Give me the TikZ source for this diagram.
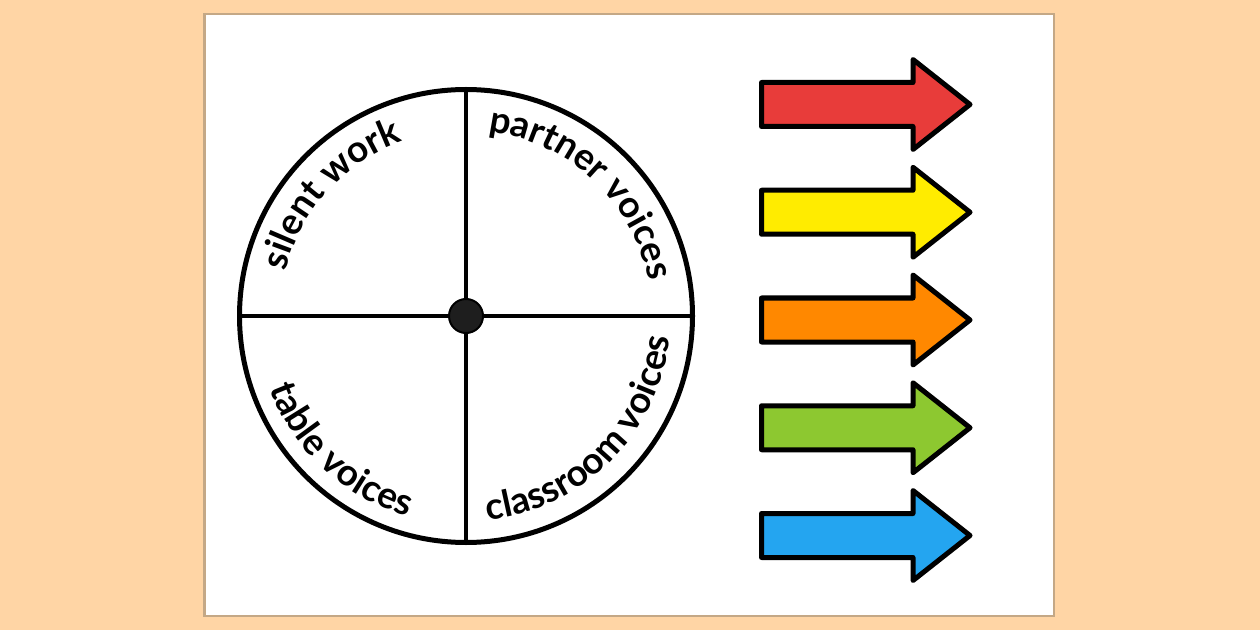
\documentclass[tikz,border=0pt]{standalone}
\usepackage{fontspec}
\newfontfamily\wheelfont{Lato}
\usetikzlibrary{decorations.text}

\definecolor{peach}{RGB}{255,213,165}
\definecolor{pageshadow}{RGB}{196,168,134}
\definecolor{hubgray}{RGB}{30,30,30}
\definecolor{arrowred}{RGB}{232,60,58}
\definecolor{arrowyellow}{RGB}{255,236,0}
\definecolor{arroworange}{RGB}{255,136,0}
\definecolor{arrowgreen}{RGB}{141,200,48}
\definecolor{arrowblue}{RGB}{36,165,240}

\newcommand\wheeltext{\wheelfont\bfseries\fontsize{37}{40}\selectfont}

\begin{document}
\begin{tikzpicture}[
    x=1pt, y=1pt,
    rim/.style={draw=black, line width=5pt},
    spoke/.style={draw=black, line width=4.5pt},
    hubdot/.style={circle, draw=black, line width=2pt, fill=hubgray,
        minimum size=34pt, inner sep=0pt},
    pointer/.style={draw=black, line width=5pt, line join=round, fill=#1},
    pointer/.default=arrowred,
    arctext/.style={decorate, decoration={text along path,
        text align=center, text={|\wheeltext|#1}}}
]
    %% --- Background and page ---
    \fill[peach] (0,0) rectangle (1260,630);
    \useasboundingbox (0,0) rectangle (1260,630);
    \fill[pageshadow] (203,13) rectangle (1055,617);
    \fill[white] (205.5,15.5) rectangle (1052.5,614.5);

    %% --- Spinner ---
    \coordinate (hub) at (466,314);
    \draw[spoke] (hub) ++(0,226) -- ++(0,-452);
    \draw[spoke] (hub) ++(-226,0) -- ++(452,0);
    \draw[rim] (hub) circle[radius=226.5pt];
    \node[hubdot] (dot) at (hub) {};

    %% --- Labels along the rim ---
    \path[arctext={silent work}]
        (hub) ++(188:186pt) arc[start angle=188, end angle=88, radius=186pt];
    \path[arctext={partner voices}]
        (hub) ++(97:186pt) arc[start angle=97, end angle=-3, radius=186pt];
    \path[arctext={table voices}]
        (hub) ++(177:209pt) arc[start angle=177, end angle=277, radius=209pt];
    \path[arctext={classroom voices}]
        (hub) ++(-95:205pt) arc[start angle=-95, end angle=5, radius=205pt];

    %% --- Arrows ---
    \foreach \col [count=\i from 0] in
        {arrowred, arrowyellow, arroworange, arrowgreen, arrowblue} {
        \draw[pointer=\col, shift={(0,-107.75*\i)}]
            (761.5,503.5) -- (913,503.5) -- (913,480.5) -- (970,525.5)
            -- (913,570.5) -- (913,547.5) -- (761.5,547.5) -- cycle;
    }
\end{tikzpicture}
\end{document}
